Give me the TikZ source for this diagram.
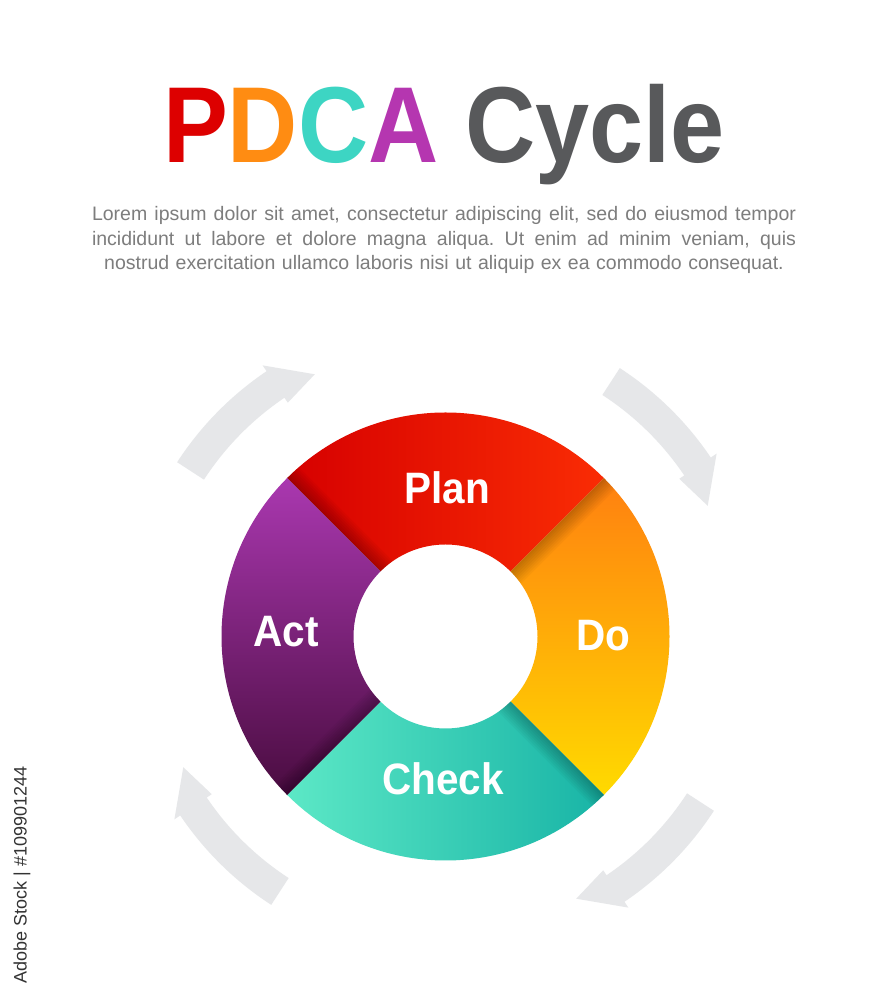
\documentclass[tikz,border=0pt]{standalone}
\usepackage{fontspec}
\setmainfont{Liberation Sans}
\newfontfamily\titlefont{Liberation Sans}[FakeStretch=0.9]
\newfontfamily\labelfont{Liberation Sans}[FakeStretch=0.92]
\usetikzlibrary{positioning}
\definecolor{titleP}{RGB}{221,0,0}
\definecolor{titleD}{RGB}{255,140,18}
\definecolor{titleC}{RGB}{61,213,195}
\definecolor{titleA}{RGB}{181,54,176}
\definecolor{titlegray}{RGB}{88,89,91}
\definecolor{bodygray}{RGB}{125,125,125}
\definecolor{arrowgray}{RGB}{230,231,233}
\definecolor{planL}{RGB}{214,0,0}
\definecolor{planR}{RGB}{250,44,4}
\definecolor{doT}{RGB}{255,128,16}
\definecolor{doB}{RGB}{255,218,0}
\definecolor{checkL}{RGB}{92,232,198}
\definecolor{checkR}{RGB}{24,180,166}
\definecolor{actT}{RGB}{170,56,176}
\definecolor{actB}{RGB}{74,12,64}
\newcommand{\ringin}{92pt}
\newcommand{\ringout}{224pt}
\newcommand{\ringseg}[1]{([shift={(#1:\ringout)}]ctr) arc[start angle=#1, end angle=#1+90, radius=\ringout]
  -- ([shift={(#1+90:\ringin)}]ctr) arc[start angle=#1+90, end angle=#1, radius=\ringin] -- cycle}
\newcommand{\fullline}[1]{\leavevmode\hbox to 704pt{\frenchspacing\spaceskip=0.278em plus 1em\relax #1}}
\tikzstyle{part} = [text=white, inner sep=0pt, font=\labelfont\bfseries\fontsize{44}{50}\selectfont]
\tikzstyle{intro} = [text width=704pt, align=center, inner sep=0pt, text=bodygray,
    font=\fontsize{19.5}{24.5}\selectfont]
\tikzstyle{cyclearrow} = [fill=arrowgray]

\begin{document}
\begin{tikzpicture}[x=1pt,y=1pt]
  \useasboundingbox (0,0) rectangle (891,1000);
  \fill[white] (0,0) rectangle (891,1000);

  \node[anchor=base, inner sep=0pt, font=\titlefont\bfseries\fontsize{108}{110}\selectfont] (title) at (444,837)
    {\textcolor{titleP}{P}\textcolor{titleD}{D}\textcolor{titleC}{C}\textcolor{titleA}{A} \textcolor{titlegray}{Cycle}};
  \node[intro, below=21pt of title] (lorem)
    {\fullline{Lorem ipsum dolor sit amet, consectetur adipiscing elit, sed do eiusmod tempor}\\
     \fullline{incididunt ut labore et dolore magna aliqua. Ut enim ad minim veniam, quis}\\
     nostrud exercitation ullamco laboris nisi ut aliquip ex ea commodo consequat.};

  \coordinate (ctr) at (445.5,363.5);

  \foreach \a in {147,57,-33,-123}
    \fill[cyclearrow] ([shift={(\a:320pt)}]ctr) arc[start angle=\a, end angle=\a-23, radius=320pt]
      -- ([shift={(\a-23:327pt)}]ctr) -- ([shift={(\a-30.5:293pt)}]ctr) -- ([shift={(\a-23:282pt)}]ctr)
      -- ([shift={(\a-23:288pt)}]ctr) arc[start angle=\a-23, end angle=\a, radius=288pt] -- cycle;

  \shade[left color=planL, right color=planR] \ringseg{45};
  \shade[top color=doT, bottom color=doB] \ringseg{-45};
  \shade[left color=checkL, right color=checkR] \ringseg{-135};
  \shade[top color=actT, bottom color=actB] \ringseg{135};

  \foreach \a in {45,-45,-135,135} {
    \begin{scope}
      \clip \ringseg{\a};
      \begin{scope}[shift={(ctr)}, rotate=\a+90]
        \foreach \w in {2,4,...,16}
          \fill[black, fill opacity=0.03] (80,0) rectangle (240,-\w);
      \end{scope}
    \end{scope}
  }

  \node[part] (plan) at (447,512.5) {Plan};
  \node[part] (do) at (603,364) {Do};
  \node[part] (check) at (443,221.5) {Check};
  \node[part] (act) at (286,368) {Act};

  \node[rotate=90, text=black!80, font=\fontsize{18}{18}\selectfont] (stockid) at (22,125) {Adobe Stock | \#109901244};
\end{tikzpicture}
\end{document}
